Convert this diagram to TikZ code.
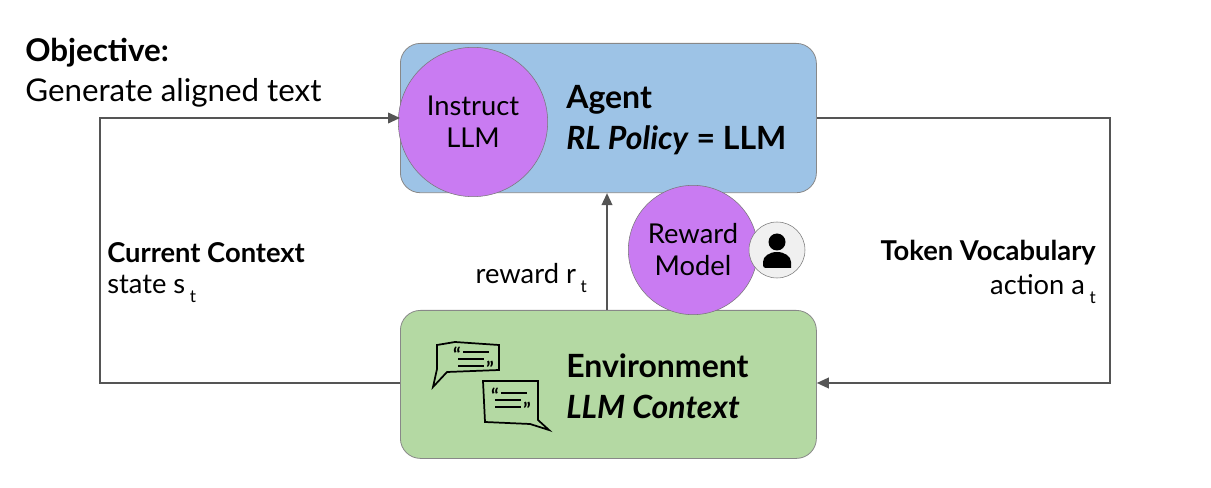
\documentclass[tikz,border=0pt]{standalone}
\usepackage{fontspec}
\setmainfont{Lato}
\usetikzlibrary{arrows.meta}
\definecolor{agentblue}{HTML}{9DC3E6}
\definecolor{envgreen}{HTML}{B4D9A3}
\definecolor{llmpurple}{HTML}{C97BF2}
\definecolor{linegray}{HTML}{555555}
\newcommand{\subt}{\,\raisebox{-0.6ex}{\fontsize{13}{13}\selectfont t}}
\begin{document}
\begin{tikzpicture}[x=0.75pt,y=-0.75pt,
  box/.style={draw=linegray!70,rounded corners=15pt,line width=0.6pt},
  bubble/.style={circle,draw=linegray!80,fill=llmpurple,inner sep=0pt,align=center,font=\fontsize{20.5}{24}\selectfont},
  flow/.style={draw=linegray,line width=1.3pt,-{Triangle[length=9pt,width=8pt]}},
  lbl/.style={font=\fontsize{20.5}{24}\selectfont,inner sep=0pt},
  big/.style={font=\fontsize{24}{29}\selectfont\bfseries,inner sep=0pt,anchor=west,align=left},
  quote/.style={font=\fontsize{15}{15}\selectfont\bfseries,inner sep=0pt}]
\useasboundingbox (0,0) rectangle (1211,488);
% boxes
\node[box,fill=agentblue,minimum width=312pt,minimum height=112pt,anchor=north west] (agent) at (400,43) {};
\node[box,fill=envgreen,minimum width=312pt,minimum height=111pt,anchor=north west] (env) at (400,310) {};
% circles
\node[bubble,minimum size=112pt] (instruct) at (473,122) {Instruct\\LLM};
\node[big] (agenttxt) at (566,120) {Agent\\[2pt]\textit{RL Policy} = LLM};
\node[big] (envtxt) at (566,386) {Environment\\[2pt]\textit{LLM Context}};
% connectors
\coordinate (tr) at (1110,118);
\coordinate (br) at (1110,383);
\coordinate (tl) at (100,118);
\coordinate (bl) at (100,383);
\draw[flow] (agent.east |- tr) -- (tr) -- (br) -- (env.east |- br);
\draw[flow] (env.west |- bl) -- (bl) -- (tl) -- (agent.west |- tl);
\coordinate (rw) at (607,0);
\draw[flow] (env.north -| rw) -- (agent.south -| rw);
\node[bubble,minimum size=97pt] (reward) at (693,250) {Reward\\Model};
\node[circle,draw=linegray!80,fill=gray!12,minimum size=42pt,inner sep=0pt] (person) at (777,250) {};
\fill (777,242) circle (8.5);
\fill (763,268) -- (763,262) arc[start angle=180,end angle=0,x radius=14,y radius=-10] -- (791,268) [rounded corners=2pt] -- cycle;
% chat icons
\draw[line width=1.3pt] (455,342) -- (499,345) -- (499,370) -- (447,372) -- (433,387) -- (437,369) -- (437,345) -- cycle;
\node[quote] (q1) at (457,355) {``};
\draw[line width=1.3pt] (463,352) -- (489,352) (458,359) -- (484,359) (458,366) -- (484,366);
\node[quote] (q2) at (490,369) {''};
\draw[line width=1.3pt] (483,381) -- (538,381) -- (538,420) -- (549,430) -- (530,424) -- (485,422) -- cycle;
\node[quote] (q3) at (495,396) {``};
\draw[line width=1.3pt] (501,393) -- (527,393) (495,400) -- (521,400) (495,407) -- (521,407);
\node[quote] (q4) at (527,410) {''};
% labels
\node[big,anchor=west,font=\fontsize{23.5}{28}\selectfont\bfseries] (obj) at (25,53) {Objective:};
\node[lbl,anchor=west,font=\fontsize{23.5}{28}\selectfont] (gen) at (25,93) {Generate aligned text};
\node[lbl,anchor=west,font=\fontsize{20.5}{24}\selectfont\bfseries] (cc) at (107,253) {Current Context};
\node[lbl,anchor=west] (st) at (107,289) {state s\subt};
\node[lbl,anchor=east,font=\fontsize{20.5}{24}\selectfont\bfseries] (tv) at (1096,253) {Token Vocabulary};
\node[lbl,anchor=east] (at) at (1096,289) {action a\subt};
\node[lbl,anchor=east] (rt) at (587,278) {reward r\subt};
\end{tikzpicture}
\end{document}
